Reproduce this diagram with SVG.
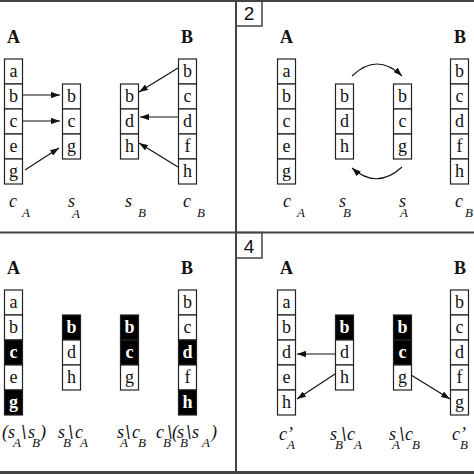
<svg xmlns="http://www.w3.org/2000/svg" width="474" height="474" viewBox="0 0 474 474">
<defs>
<style>
.fr{stroke:#444;fill:none}
.c{fill:#fff;stroke:#222;stroke-width:1.2}
.k{fill:#000;stroke:#222;stroke-width:1.2}
.t{font-family:"Liberation Serif",serif;font-size:18px;text-anchor:middle;fill:#111}
.tw{font-family:"Liberation Serif",serif;font-size:18px;text-anchor:middle;fill:#fff;font-weight:bold}
.hd{font-family:"Liberation Serif",serif;font-size:18px;font-weight:bold;fill:#111}
.num{font-family:"Liberation Sans",sans-serif;font-size:19px;text-anchor:middle;fill:#111}
.lb{font-family:"Liberation Serif",serif;font-size:18px;font-style:italic;fill:#111}
.sb{font-size:13px}
.bs{font-size:20px;font-weight:bold}
.ar{stroke:#111;stroke-width:1.1;fill:none;marker-end:url(#ah)}
</style>
<marker id="ah" viewBox="0 0 10 7" refX="10" refY="3.5" markerWidth="9" markerHeight="6.3" markerUnits="userSpaceOnUse" orient="auto">
<path d="M0,0 L10,3.5 L0,7 z" fill="#111"/>
</marker>
</defs>
<rect width="474" height="474" fill="#fff"/>
<g id="frame">
<line class="fr" x1="0" y1="1" x2="474" y2="1" stroke-width="2"/>
<line class="fr" x1="0" y1="472.5" x2="474" y2="472.5" stroke-width="3"/>
<line class="fr" x1="236" y1="0" x2="236" y2="474" stroke-width="2"/>
<line class="fr" x1="0" y1="232.5" x2="474" y2="232.5" stroke-width="2"/>
<rect class="fr" x="236" y="1" width="26" height="25" stroke-width="1.5"/>
<text class="num" x="249" y="20">2</text>
<rect class="fr" x="236" y="232.5" width="26" height="25.5" stroke-width="1.5"/>
<text class="num" x="249" y="253">4</text>
</g>
<g id="headers">
<text class="hd" x="7" y="43">A</text><text class="hd" x="181" y="43">B</text>
<text class="hd" x="280" y="43">A</text><text class="hd" x="454" y="43">B</text>
<text class="hd" x="7" y="274">A</text><text class="hd" x="181" y="274">B</text>
<text class="hd" x="280" y="274">A</text><text class="hd" x="454" y="274">B</text>
</g>
<g id="q1-cA">
<rect class="c" x="4.5" y="59" width="18" height="25"/><text class="t" x="13.5" y="77">a</text>
<rect class="c" x="4.5" y="84" width="18" height="25"/><text class="t" x="13.5" y="102">b</text>
<rect class="c" x="4.5" y="109" width="18" height="25"/><text class="t" x="13.5" y="127">c</text>
<rect class="c" x="4.5" y="134" width="18" height="25"/><text class="t" x="13.5" y="152">e</text>
<rect class="c" x="4.5" y="159" width="18" height="25"/><text class="t" x="13.5" y="177">g</text>
</g>
<g id="q1-sA">
<rect class="c" x="62.5" y="84" width="18" height="25"/><text class="t" x="71.5" y="102">b</text>
<rect class="c" x="62.5" y="109" width="18" height="25"/><text class="t" x="71.5" y="127">c</text>
<rect class="c" x="62.5" y="134" width="18" height="25"/><text class="t" x="71.5" y="152">g</text>
</g>
<g id="q1-sB">
<rect class="c" x="120.5" y="84" width="18" height="25"/><text class="t" x="129.5" y="102">b</text>
<rect class="c" x="120.5" y="109" width="18" height="25"/><text class="t" x="129.5" y="127">d</text>
<rect class="c" x="120.5" y="134" width="18" height="25"/><text class="t" x="129.5" y="152">h</text>
</g>
<g id="q1-cB">
<rect class="c" x="178.5" y="59" width="18" height="25"/><text class="t" x="187.5" y="77">b</text>
<rect class="c" x="178.5" y="84" width="18" height="25"/><text class="t" x="187.5" y="102">c</text>
<rect class="c" x="178.5" y="109" width="18" height="25"/><text class="t" x="187.5" y="127">d</text>
<rect class="c" x="178.5" y="134" width="18" height="25"/><text class="t" x="187.5" y="152">f</text>
<rect class="c" x="178.5" y="159" width="18" height="25"/><text class="t" x="187.5" y="177">h</text>
</g>
<g id="q2-cA">
<rect class="c" x="277.5" y="59" width="18" height="25"/><text class="t" x="286.5" y="77">a</text>
<rect class="c" x="277.5" y="84" width="18" height="25"/><text class="t" x="286.5" y="102">b</text>
<rect class="c" x="277.5" y="109" width="18" height="25"/><text class="t" x="286.5" y="127">c</text>
<rect class="c" x="277.5" y="134" width="18" height="25"/><text class="t" x="286.5" y="152">e</text>
<rect class="c" x="277.5" y="159" width="18" height="25"/><text class="t" x="286.5" y="177">g</text>
</g>
<g id="q2-sB">
<rect class="c" x="335.5" y="84" width="18" height="25"/><text class="t" x="344.5" y="102">b</text>
<rect class="c" x="335.5" y="109" width="18" height="25"/><text class="t" x="344.5" y="127">d</text>
<rect class="c" x="335.5" y="134" width="18" height="25"/><text class="t" x="344.5" y="152">h</text>
</g>
<g id="q2-sA">
<rect class="c" x="393.5" y="84" width="18" height="25"/><text class="t" x="402.5" y="102">b</text>
<rect class="c" x="393.5" y="109" width="18" height="25"/><text class="t" x="402.5" y="127">c</text>
<rect class="c" x="393.5" y="134" width="18" height="25"/><text class="t" x="402.5" y="152">g</text>
</g>
<g id="q2-cB">
<rect class="c" x="450.5" y="59" width="18" height="25"/><text class="t" x="459.5" y="77">b</text>
<rect class="c" x="450.5" y="84" width="18" height="25"/><text class="t" x="459.5" y="102">c</text>
<rect class="c" x="450.5" y="109" width="18" height="25"/><text class="t" x="459.5" y="127">d</text>
<rect class="c" x="450.5" y="134" width="18" height="25"/><text class="t" x="459.5" y="152">f</text>
<rect class="c" x="450.5" y="159" width="18" height="25"/><text class="t" x="459.5" y="177">h</text>
</g>
<g id="q3-cA">
<rect class="c" x="4.5" y="290" width="18" height="25"/><text class="t" x="13.5" y="308">a</text>
<rect class="c" x="4.5" y="315" width="18" height="25"/><text class="t" x="13.5" y="333">b</text>
<rect class="k" x="4.5" y="340" width="18" height="25"/><text class="tw" x="13.5" y="358">c</text>
<rect class="c" x="4.5" y="365" width="18" height="25"/><text class="t" x="13.5" y="383">e</text>
<rect class="k" x="4.5" y="390" width="18" height="25"/><text class="tw" x="13.5" y="408">g</text>
</g>
<g id="q3-sBcA">
<rect class="k" x="62.5" y="315" width="18" height="25"/><text class="tw" x="71.5" y="333">b</text>
<rect class="c" x="62.5" y="340" width="18" height="25"/><text class="t" x="71.5" y="358">d</text>
<rect class="c" x="62.5" y="365" width="18" height="25"/><text class="t" x="71.5" y="383">h</text>
</g>
<g id="q3-sAcB">
<rect class="k" x="120.5" y="315" width="18" height="25"/><text class="tw" x="129.5" y="333">b</text>
<rect class="k" x="120.5" y="340" width="18" height="25"/><text class="tw" x="129.5" y="358">c</text>
<rect class="c" x="120.5" y="365" width="18" height="25"/><text class="t" x="129.5" y="383">g</text>
</g>
<g id="q3-cB">
<rect class="c" x="178.5" y="290" width="18" height="25"/><text class="t" x="187.5" y="308">b</text>
<rect class="c" x="178.5" y="315" width="18" height="25"/><text class="t" x="187.5" y="333">c</text>
<rect class="k" x="178.5" y="340" width="18" height="25"/><text class="tw" x="187.5" y="358">d</text>
<rect class="c" x="178.5" y="365" width="18" height="25"/><text class="t" x="187.5" y="383">f</text>
<rect class="k" x="178.5" y="390" width="18" height="25"/><text class="tw" x="187.5" y="408">h</text>
</g>
<g id="q4-cA2">
<rect class="c" x="277.5" y="290" width="18" height="25"/><text class="t" x="286.5" y="308">a</text>
<rect class="c" x="277.5" y="315" width="18" height="25"/><text class="t" x="286.5" y="333">b</text>
<rect class="c" x="277.5" y="340" width="18" height="25"/><text class="t" x="286.5" y="358">d</text>
<rect class="c" x="277.5" y="365" width="18" height="25"/><text class="t" x="286.5" y="383">e</text>
<rect class="c" x="277.5" y="390" width="18" height="25"/><text class="t" x="286.5" y="408">h</text>
</g>
<g id="q4-sBcA">
<rect class="k" x="335.5" y="315" width="18" height="25"/><text class="tw" x="344.5" y="333">b</text>
<rect class="c" x="335.5" y="340" width="18" height="25"/><text class="t" x="344.5" y="358">d</text>
<rect class="c" x="335.5" y="365" width="18" height="25"/><text class="t" x="344.5" y="383">h</text>
</g>
<g id="q4-sAcB">
<rect class="k" x="393.5" y="315" width="18" height="25"/><text class="tw" x="402.5" y="333">b</text>
<rect class="k" x="393.5" y="340" width="18" height="25"/><text class="tw" x="402.5" y="358">c</text>
<rect class="c" x="393.5" y="365" width="18" height="25"/><text class="t" x="402.5" y="383">g</text>
</g>
<g id="q4-cB2">
<rect class="c" x="450.5" y="290" width="18" height="25"/><text class="t" x="459.5" y="308">b</text>
<rect class="c" x="450.5" y="315" width="18" height="25"/><text class="t" x="459.5" y="333">c</text>
<rect class="c" x="450.5" y="340" width="18" height="25"/><text class="t" x="459.5" y="358">d</text>
<rect class="c" x="450.5" y="365" width="18" height="25"/><text class="t" x="459.5" y="383">f</text>
<rect class="c" x="450.5" y="390" width="18" height="25"/><text class="t" x="459.5" y="408">g</text>
</g>
<g id="connectors">
<path class="ar" d="M23,95 L60,95"/>
<path class="ar" d="M23,121 L60,121"/>
<path class="ar" d="M25,170 L59,148"/>
<path class="ar" d="M178,68 L139,92"/>
<path class="ar" d="M178,117 L140,117"/>
<path class="ar" d="M178,167 L139,143"/>
<path class="ar" d="M352,76 Q377,52 402,76"/>
<path class="ar" d="M402,167 Q377,190 352,168"/>
<path class="ar" d="M335,354 L297,354"/>
<path class="ar" d="M335,374 L297,399"/>
<path class="ar" d="M411,375 L450,399"/>
</g>
<g id="labels">
<text class="lb"><tspan x="9" y="207">c</tspan><tspan class="sb" x="22" y="217">A</tspan></text>
<text class="lb"><tspan x="68" y="207">s</tspan><tspan class="sb" x="72" y="218">A</tspan></text>
<text class="lb"><tspan x="125" y="207">s</tspan><tspan class="sb" x="138" y="217">B</tspan></text>
<text class="lb"><tspan x="183" y="207">c</tspan><tspan class="sb" x="197" y="217">B</tspan></text>

<text class="lb"><tspan x="283" y="207">c</tspan><tspan class="sb" x="297" y="217">A</tspan></text>
<text class="lb"><tspan x="339" y="207">s</tspan><tspan class="sb" x="343" y="217">B</tspan></text>
<text class="lb"><tspan x="399" y="207">s</tspan><tspan class="sb" x="400" y="217">A</tspan></text>
<text class="lb"><tspan x="455" y="207">c</tspan><tspan class="sb" x="465" y="217">B</tspan></text>

<text class="lb"><tspan x="2" y="438">(</tspan><tspan x="8" y="438">s</tspan><tspan class="sb" x="13" y="447">A</tspan><tspan class="bs" x="21" y="439">\</tspan><tspan x="28" y="438">s</tspan><tspan class="sb" x="32" y="447">B</tspan><tspan x="40" y="438">)</tspan></text>
<text class="lb"><tspan x="58" y="438">s</tspan><tspan class="sb" x="63" y="447">B</tspan><tspan class="bs" x="68" y="439">\</tspan><tspan x="75" y="438">c</tspan><tspan class="sb" x="80" y="447">A</tspan></text>
<text class="lb"><tspan x="117" y="438">s</tspan><tspan class="sb" x="120" y="447">A</tspan><tspan class="bs" x="125" y="439">\</tspan><tspan x="132" y="438">c</tspan><tspan class="sb" x="138" y="447">B</tspan></text>
<text class="lb"><tspan x="156" y="438">c</tspan><tspan class="sb" x="163" y="447">B</tspan><tspan class="bs" x="167" y="439">\</tspan><tspan x="172" y="438">(</tspan><tspan x="177" y="438">s</tspan><tspan class="sb" x="180" y="447">B</tspan><tspan class="bs" x="186" y="439">\</tspan><tspan x="192" y="438">s</tspan><tspan class="sb" x="202" y="447">A</tspan><tspan x="211" y="438">)</tspan></text>

<text class="lb"><tspan x="279" y="440">c’</tspan><tspan class="sb" x="287" y="449">A</tspan></text>
<text class="lb"><tspan x="330" y="440">s</tspan><tspan class="sb" x="335" y="449">B</tspan><tspan class="bs" x="341" y="441">\</tspan><tspan x="347" y="440">c</tspan><tspan class="sb" x="354" y="449">A</tspan></text>
<text class="lb"><tspan x="389" y="440">s</tspan><tspan class="sb" x="392" y="449">A</tspan><tspan class="bs" x="399" y="441">\</tspan><tspan x="405" y="440">c</tspan><tspan class="sb" x="412" y="449">B</tspan></text>
<text class="lb"><tspan x="452" y="440">c’</tspan><tspan class="sb" x="460" y="449">B</tspan></text>
</g>
</svg>
